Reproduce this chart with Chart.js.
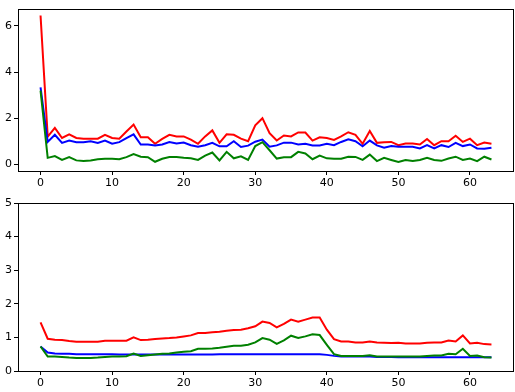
<!DOCTYPE html>
<html>
<head>
<meta charset="utf-8">
<script src="https://cdn.jsdelivr.net/npm/chart.js@4"></script>
<style>
  body { margin: 0; background: #fff; }
  #wrap { position: relative; width: 515px; height: 392px; }
  #wrap canvas { position: absolute; left: 0; }
  #topChart { top: 0; }
  #botChart { top: 190px; }
</style>
</head>
<body>
<div id="wrap">
  <canvas id="topChart" width="515" height="190"></canvas>
  <canvas id="botChart" width="515" height="202"></canvas>
</div>
<script>
// x positions 0..63
const steps = [0,1,2,3,4,5,6,7,8,9,10,11,12,13,14,15,16,17,18,19,20,21,22,23,24,25,26,27,28,29,30,31,
               32,33,34,35,36,37,38,39,40,41,42,43,44,45,46,47,48,49,50,51,52,53,54,55,56,57,58,59,60,61,62,63];
const xTicks = [0, 10, 20, 30, 40, 50, 60];
const topYTicks = [0, 2, 4, 6];
const botYTicks = [0, 1, 2, 3, 4, 5];

// upper panel
const topRed = [6.45,1.2,1.58,1.14,1.3,1.14,1.11,1.11,1.11,1.28,1.14,1.11,1.42,1.72,1.17,1.17,0.89,1.1,1.28,1.21,1.21,1.07,0.89,1.21,1.47,0.93,1.3,1.28,1.11,1.0,1.69,
                2.0,1.35,1.03,1.25,1.21,1.38,1.38,1.03,1.17,1.14,1.06,1.21,1.39,1.28,0.89,1.44,0.93,0.96,0.97,0.83,0.9,0.9,0.86,1.1,0.83,1.0,1.0,1.24,0.97,1.11,0.83,0.94,0.89];
const topBlue = [3.33,0.97,1.28,0.93,1.03,0.96,0.96,1.0,0.93,1.03,0.89,0.96,1.14,1.3,0.86,0.86,0.82,0.86,0.97,0.9,0.94,0.83,0.76,0.83,0.93,0.78,0.78,1.0,0.75,0.81,0.98,
                 1.07,0.76,0.82,0.94,0.94,0.86,0.89,0.82,0.82,0.89,0.83,0.97,1.08,1.0,0.78,1.03,0.82,0.72,0.79,0.76,0.76,0.76,0.69,0.83,0.69,0.83,0.75,0.93,0.79,0.86,0.69,0.67,0.72];
const topGreen = [3.19,0.28,0.36,0.19,0.31,0.17,0.14,0.17,0.22,0.24,0.24,0.22,0.31,0.44,0.33,0.31,0.11,0.24,0.32,0.32,0.28,0.26,0.19,0.38,0.51,0.17,0.54,0.26,0.35,0.19,0.79,
                  0.96,0.61,0.25,0.31,0.31,0.54,0.47,0.22,0.38,0.26,0.24,0.24,0.33,0.32,0.19,0.42,0.14,0.28,0.19,0.1,0.19,0.14,0.19,0.28,0.19,0.15,0.25,0.33,0.19,0.25,0.14,0.33,0.21];

// lower panel
const botRed = [1.45,0.96,0.93,0.92,0.89,0.87,0.87,0.87,0.87,0.9,0.9,0.9,0.9,1.0,0.92,0.93,0.95,0.97,0.98,1.0,1.03,1.06,1.13,1.13,1.15,1.17,1.2,1.22,1.23,1.27,1.33,
                1.47,1.43,1.3,1.4,1.53,1.47,1.53,1.59,1.59,1.23,0.95,0.88,0.88,0.85,0.85,0.88,0.85,0.84,0.83,0.84,0.82,0.82,0.82,0.84,0.85,0.85,0.91,0.88,1.06,0.82,0.84,0.8,0.79];
const botBlue = [0.73,0.55,0.52,0.51,0.51,0.5,0.5,0.5,0.5,0.5,0.5,0.49,0.49,0.49,0.49,0.49,0.49,0.49,0.49,0.49,0.49,0.49,0.49,0.49,0.49,0.5,0.5,0.5,0.5,0.5,0.5,
                 0.5,0.5,0.5,0.5,0.5,0.5,0.5,0.5,0.5,0.48,0.45,0.43,0.43,0.43,0.43,0.43,0.42,0.42,0.42,0.41,0.41,0.41,0.41,0.41,0.41,0.41,0.41,0.41,0.41,0.41,0.41,0.41,0.41];
const botGreen = [0.73,0.43,0.43,0.42,0.4,0.39,0.39,0.39,0.4,0.42,0.43,0.43,0.44,0.52,0.45,0.47,0.49,0.51,0.52,0.55,0.57,0.59,0.66,0.66,0.67,0.69,0.72,0.75,0.75,0.78,0.85,
                  0.98,0.93,0.81,0.91,1.05,0.98,1.03,1.09,1.07,0.78,0.5,0.45,0.45,0.45,0.45,0.47,0.43,0.43,0.43,0.43,0.43,0.43,0.43,0.45,0.46,0.46,0.51,0.5,0.66,0.45,0.46,0.41,0.4];

const frame = {
  id: 'frame',
  afterDraw(chart) {
    const a = chart.chartArea, c = chart.ctx;
    c.save(); c.strokeStyle = '#000'; c.lineWidth = 1;
    c.strokeRect(Math.round(a.left) + 0.5, Math.round(a.top) + 0.5, Math.round(a.right - a.left) - 1, Math.round(a.bottom - a.top));
    c.restore();
  }
};

const pts = arr => steps.map((x, i) => ({ x, y: arr[i] }));
const line = (arr, color, order) => ({ data: pts(arr), borderColor: color, borderWidth: 2, pointRadius: 0, tension: 0, fill: false, order });
const font = { family: 'DejaVu Sans', size: 11 };

function makeChart(id, series, yMin, yMax, yTicks, pad, xH) {
  return new Chart(document.getElementById(id), {
    type: 'line',
    data: { datasets: [line(series[0], '#ff0000', 3), line(series[1], '#0000ff', 2), line(series[2], '#008000', 1)] },
    options: {
      responsive: false, animation: false, devicePixelRatio: 1,
      layout: { padding: pad },
      plugins: { legend: { display: false }, tooltip: { enabled: false } },
      scales: {
        x: {
          type: 'linear', min: -3.15, max: 66.15,
          afterBuildTicks: ax => { ax.ticks = xTicks.map(v => ({ value: v })); },
          afterFit: ax => { ax.height = xH; },
          grid: { drawOnChartArea: false, tickLength: 4, color: '#000' },
          border: { display: false },
          ticks: { color: '#000', font, padding: 2, maxRotation: 0 }
        },
        y: {
          min: yMin, max: yMax,
          afterBuildTicks: ax => { ax.ticks = yTicks.map(v => ({ value: v })); },
          afterFit: ax => { ax.width = 18; },
          grid: { drawOnChartArea: false, tickLength: 4, color: '#000' },
          border: { display: false },
          ticks: { color: '#000', font, padding: 2 }
        }
      }
    },
    plugins: [frame]
  });
}

makeChart('topChart', [topRed, topBlue, topGreen], -0.29, 6.75, topYTicks, { top: 2, right: 1, left: 0, bottom: 0 }, 19);
makeChart('botChart', [botRed, botBlue, botGreen], 0, 5, botYTicks, { top: 13, right: 1, left: 0, bottom: 0 }, 21);
</script>
</body>
</html>
